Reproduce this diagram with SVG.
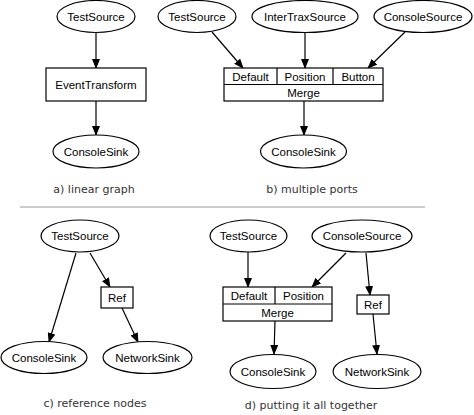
<svg xmlns="http://www.w3.org/2000/svg" width="474" height="415" viewBox="0 0 474 415">
<defs>
<marker id="arr" markerWidth="10" markerHeight="8" refX="9" refY="4" orient="auto" markerUnits="userSpaceOnUse">
<path d="M0,0 L10,4 L0,8 Z" fill="#000"/>
</marker>
</defs>
<style>
.n{fill:#fff;stroke:#000;stroke-width:1.2}
.t{font-family:"Liberation Sans",Arial,sans-serif;font-size:11.5px;fill:#000;text-anchor:middle}
.c{font-family:"DejaVu Sans","Liberation Sans",sans-serif;font-size:11px;fill:#333;text-anchor:middle}
.e{stroke:#000;stroke-width:1.2;fill:none;marker-end:url(#arr)}
</style>
<rect width="474" height="415" fill="#fff"/>
<g id="connectors">
<line class="e" x1="96" y1="33" x2="96" y2="68"/>
<line class="e" x1="96" y1="101" x2="96" y2="135"/>
<line class="e" x1="212" y1="32" x2="243" y2="68"/>
<line class="e" x1="305" y1="33" x2="305" y2="68"/>
<line class="e" x1="405" y1="32" x2="368" y2="68"/>
<line class="e" x1="304" y1="101" x2="304" y2="135"/>
<line class="e" x1="76" y1="253" x2="49" y2="342"/>
<line class="e" x1="90" y1="253" x2="110" y2="287"/>
<line class="e" x1="122" y1="308" x2="138" y2="342"/>
<line class="e" x1="248" y1="252" x2="248" y2="287"/>
<line class="e" x1="346" y1="253" x2="312" y2="287"/>
<line class="e" x1="366" y1="253" x2="370" y2="295"/>
<line class="e" x1="275" y1="321" x2="274" y2="354"/>
<line class="e" x1="373" y1="314" x2="377" y2="354"/>
</g>
<line x1="20" y1="207" x2="425" y2="207" stroke="#999" stroke-width="1"/>
<g id="a-testsource"><ellipse class="n" cx="96" cy="16.5" rx="39" ry="16"/><text class="t" x="96" y="20.5">TestSource</text></g>
<g id="a-eventtransform"><rect class="n" x="46" y="68" width="100" height="33"/><text class="t" x="96" y="88.5">EventTransform</text></g>
<g id="a-consolesink"><ellipse class="n" cx="96" cy="151.5" rx="43" ry="16.5"/><text class="t" x="96" y="155.5">ConsoleSink</text></g>
<text class="c" x="94" y="193">a) linear graph</text>
<g id="b-testsource"><ellipse class="n" cx="197" cy="16.5" rx="39" ry="16"/><text class="t" x="197" y="20.5">TestSource</text></g>
<g id="b-intertraxsource"><ellipse class="n" cx="305" cy="16.5" rx="53" ry="16"/><text class="t" x="305" y="20.5">InterTraxSource</text></g>
<g id="b-consolesource"><ellipse class="n" cx="423" cy="16.5" rx="49" ry="16"/><text class="t" x="423" y="20.5">ConsoleSource</text></g>
<g id="b-merge"><rect class="n" x="224" y="68" width="159" height="33"/><line x1="224" y1="84.5" x2="383" y2="84.5" stroke="#000" stroke-width="1.2"/><line x1="277" y1="68" x2="277" y2="84.5" stroke="#000" stroke-width="1.2"/><line x1="333" y1="68" x2="333" y2="84.5" stroke="#000" stroke-width="1.2"/>
<text class="t" x="250.5" y="80.5">Default</text><text class="t" x="305" y="80.5">Position</text><text class="t" x="358" y="80.5">Button</text><text class="t" x="303.5" y="97">Merge</text></g>
<g id="b-consolesink"><ellipse class="n" cx="303.5" cy="151.5" rx="43" ry="16.5"/><text class="t" x="303.5" y="155.5">ConsoleSink</text></g>
<text class="c" x="312" y="193">b) multiple ports</text>
<g id="c-testsource"><ellipse class="n" cx="80" cy="236" rx="39" ry="16"/><text class="t" x="80" y="240">TestSource</text></g>
<g id="c-ref"><rect class="n" x="101" y="287" width="32" height="21"/><text class="t" x="117" y="301.5">Ref</text></g>
<g id="c-consolesink"><ellipse class="n" cx="44" cy="357.5" rx="43" ry="16"/><text class="t" x="44" y="361.5">ConsoleSink</text></g>
<g id="c-networksink"><ellipse class="n" cx="147.5" cy="357.5" rx="44.5" ry="16"/><text class="t" x="147.5" y="361.5">NetworkSink</text></g>
<text class="c" x="95" y="407">c) reference nodes</text>
<g id="d-testsource"><ellipse class="n" cx="248.5" cy="236" rx="38.5" ry="16"/><text class="t" x="248.5" y="240">TestSource</text></g>
<g id="d-consolesource"><ellipse class="n" cx="362" cy="236" rx="50" ry="16"/><text class="t" x="362" y="240">ConsoleSource</text></g>
<g id="d-merge"><rect class="n" x="223" y="287" width="109" height="34"/><line x1="223" y1="304" x2="332" y2="304" stroke="#000" stroke-width="1.2"/><line x1="275" y1="287" x2="275" y2="304" stroke="#000" stroke-width="1.2"/>
<text class="t" x="249" y="299.5">Default</text><text class="t" x="303.5" y="299.5">Position</text><text class="t" x="277.5" y="316.5">Merge</text></g>
<g id="d-ref"><rect class="n" x="357" y="295" width="32" height="19"/><text class="t" x="373" y="308.5">Ref</text></g>
<g id="d-consolesink"><ellipse class="n" cx="273" cy="371.5" rx="43" ry="17"/><text class="t" x="273" y="375.5">ConsoleSink</text></g>
<g id="d-networksink"><ellipse class="n" cx="377" cy="371.5" rx="44" ry="17"/><text class="t" x="377" y="375.5">NetworkSink</text></g>
<text class="c" x="311" y="409">d) putting it all together</text>
</svg>
